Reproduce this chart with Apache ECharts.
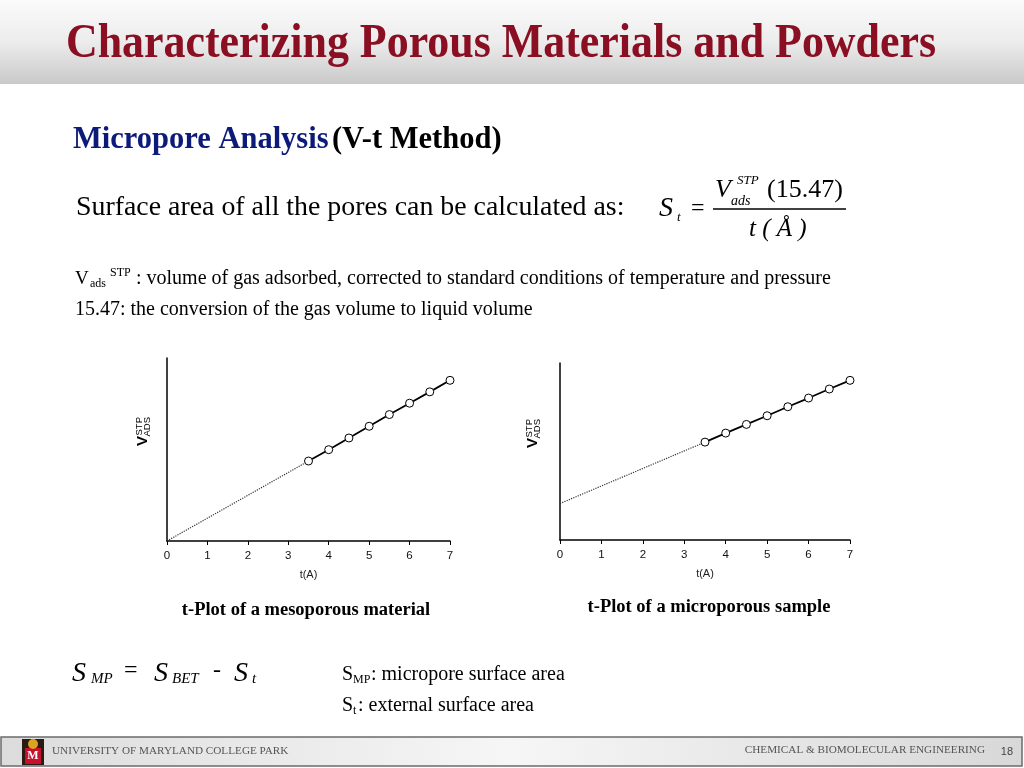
<!DOCTYPE html>
<html>
<head>
<meta charset="utf-8">
<script src="https://cdn.jsdelivr.net/npm/echarts@6/dist/echarts.min.js"></script>
<style>
html,body{margin:0;padding:0;background:#fff;}
#c{width:1024px;height:768px;}
</style>
</head>
<body>
<div id="c"></div>
<script>
// ---- data ----
const tValues = [3.5, 4, 4.5, 5, 5.5, 6, 6.5, 7];
const mesoV = [43.7, 49.9, 56.3, 62.7, 69.1, 75.3, 81.5, 87.8];
const microV = [55.3, 60.4, 65.3, 70.2, 75.3, 80.2, 85.3, 90.2];
const mesoIntercept = 0;
const microIntercept = 20.6;
const xTickLabels = ['0', '1', '2', '3', '4', '5', '6', '7'];
const captions = ['t-Plot of a mesoporous material', 't-Plot of a microporous sample'];

const SERIF = '"Liberation Serif", "DejaVu Serif", serif';
const SANS = '"Liberation Sans", Arial, sans-serif';

const chart = echarts.init(document.getElementById('c'));

function xAxisCfg(gi) {
  return {
    gridIndex: gi, type: 'value', min: 0, max: 7, interval: 1,
    name: 't(A)', nameLocation: 'middle', nameGap: 28,
    nameTextStyle: { fontFamily: SANS, fontSize: 11, color: '#222' },
    axisLine: { lineStyle: { color: '#000', width: 1.5 } },
    axisTick: { show: true, length: 4, lineStyle: { color: '#000', width: 1 } },
    axisLabel: { fontFamily: SANS, fontSize: 11.5, color: '#111', margin: 9,
      formatter: v => xTickLabels[v] },
    splitLine: { show: false }
  };
}
function yAxisCfg(gi) {
  return {
    gridIndex: gi, type: 'value', min: 0, max: 100,
    axisLine: { show: true, lineStyle: { color: '#000', width: 1.5 } },
    axisTick: { show: false }, axisLabel: { show: false }, splitLine: { show: false }
  };
}
function seriesFor(gi, vals, intercept) {
  return [
    { type: 'line', xAxisIndex: gi, yAxisIndex: gi, symbol: 'none', silent: true,
      data: [[0, intercept], [tValues[0], vals[0]]],
      lineStyle: { type: 'dotted', width: 1.2, color: '#333' } },
    { type: 'line', xAxisIndex: gi, yAxisIndex: gi, symbol: 'circle', symbolSize: 8,
      data: tValues.map((t, i) => [t, vals[i]]),
      itemStyle: { color: '#fff', borderColor: '#000', borderWidth: 1 },
      lineStyle: { color: '#000', width: 1.8 } }
  ];
}

function txt(x, y, text, size, opts, extra) {
  opts = opts || {};
  return Object.assign({
    type: 'text', x: x, y: y, z: 10,
    style: Object.assign({
      text: text, fontFamily: SERIF, fontSize: size, fill: '#000',
      textAlign: 'left', textVerticalAlign: 'middle'
    }, opts)
  }, extra || {});
}
function yName(x, y) {
  return {
    type: 'group', x: x, y: y, rotation: Math.PI / 2, z: 10,
    children: [
      { type: 'text', x: 0, y: 0, style: { text: 'V', fontFamily: SANS, fontSize: 15, fontWeight: 'bold', fill: '#000', textAlign: 'left', textVerticalAlign: 'middle' } },
      { type: 'text', x: 10.5, y: -4, style: { text: 'STP', fontFamily: SANS, fontSize: 9.5, fill: '#000', textAlign: 'left', textVerticalAlign: 'middle' } },
      { type: 'text', x: 9.5, y: 4, style: { text: 'ADS', fontFamily: SANS, fontSize: 9.5, fill: '#000', textAlign: 'left', textVerticalAlign: 'middle' } }
    ]
  };
}

const graphics = [
  // header band
  { type: 'rect', z: 0, shape: { x: 0, y: 0, width: 1024, height: 84 },
    style: { fill: { type: 'linear', x: 0, y: 0, x2: 0, y2: 1,
      colorStops: [{ offset: 0, color: '#fbfbfb' }, { offset: 0.5, color: '#ececec' }, { offset: 1, color: '#c9c9c9' }] } } },
  txt(501, 45, 'Characterizing Porous Materials and Powders', 48,
    { textAlign: 'center', fontWeight: 'bold', fill: '#8a0f22' }, { scaleX: 0.915, originX: 0 }),
  // subtitle
  { type: 'text', x: 73, y: 140, z: 10, style: {
      text: '{b|Micropore Analysis} {k|(V-t Method)}', textVerticalAlign: 'middle',
      rich: {
        b: { fontFamily: SERIF, fontSize: 30.5, fontWeight: 'bold', fill: '#0c1a7a', color: '#0c1a7a' },
        k: { fontFamily: SERIF, fontSize: 30.5, fontWeight: 'bold', fill: '#000', color: '#000' }
      } } },
  txt(76, 208, 'Surface area of all the pores can be calculated as:', 28, {}, { scaleX: 0.995 }),
  // formula S_t
  txt(659, 209, 'S', 28, { fontStyle: 'italic' }),
  txt(677, 218, 't', 13, { fontStyle: 'italic' }),
  txt(691, 209, '=', 24),
  { type: 'line', z: 10, shape: { x1: 713, y1: 209, x2: 846, y2: 209 }, style: { stroke: '#000', lineWidth: 1.5 } },
  txt(715, 190, 'V', 26, { fontStyle: 'italic' }),
  txt(737, 181, 'STP', 13, { fontStyle: 'italic' }),
  txt(731, 201, 'ads', 14, { fontStyle: 'italic' }),
  txt(767, 190, '(15.47)', 26),
  txt(749, 229, 't ( Å )', 25, { fontStyle: 'italic' }),
  // definitions
  txt(75, 279, 'V', 19),
  txt(90, 284, 'ads', 12),
  txt(110, 273, 'STP', 12),
  txt(136, 279, ': volume of gas adsorbed, corrected to standard conditions of temperature and pressure', 20),
  txt(75, 310, '15.47: the conversion of the gas volume to liquid volume', 20),
  // axis names (rotated)
  yName(143, 446),
  yName(533, 448),
  // captions
  txt(306, 610, captions[0], 18.5, { textAlign: 'center', fontWeight: 'bold' }),
  txt(709, 607, captions[1], 18.5, { textAlign: 'center', fontWeight: 'bold' }),
  // bottom formula
  txt(72, 674, 'S', 28, { fontStyle: 'italic' }),
  txt(91, 679, 'MP', 15, { fontStyle: 'italic' }),
  txt(124, 671, '=', 24),
  txt(154, 674, 'S', 28, { fontStyle: 'italic' }),
  txt(172, 679, 'BET', 15, { fontStyle: 'italic' }),
  txt(213, 671, '-', 24),
  txt(234, 674, 'S', 28, { fontStyle: 'italic' }),
  txt(252, 679, 't', 15, { fontStyle: 'italic' }),
  txt(342, 675, 'S', 20),
  txt(353, 680, 'MP', 12),
  txt(371, 675, ': micropore surface area', 20),
  txt(342, 706, 'S', 20),
  txt(353, 711, 't', 12),
  txt(358, 706, ': external surface area', 20),
  // footer
  { type: 'rect', z: 0, shape: { x: 1, y: 737, width: 1021, height: 29 },
    style: { stroke: '#6b6b6b', lineWidth: 1.5, fill: { type: 'linear', x: 0, y: 0, x2: 1, y2: 0,
      colorStops: [{ offset: 0, color: '#dcdcdc' }, { offset: 0.5, color: '#f6f6f6' }, { offset: 1, color: '#d8d8d8' }] } } },
  { type: 'rect', z: 5, shape: { x: 22, y: 739, width: 22, height: 26 }, style: { fill: '#2a1a12' } },
  { type: 'rect', z: 6, shape: { x: 25, y: 748, width: 16, height: 16 }, style: { fill: '#c8102e' } },
  { type: 'circle', z: 6, shape: { cx: 33, cy: 744, r: 5 }, style: { fill: '#d9a520' } },
  txt(33, 756, 'M', 12, { textAlign: 'center', fontWeight: 'bold', fill: '#fff' }),
  txt(52, 751, 'UNIVERSITY OF MARYLAND COLLEGE PARK', 11.2, { fill: '#555' }),
  txt(985, 750, 'CHEMICAL & BIOMOLECULAR ENGINEERING', 11.2, { textAlign: 'right', fill: '#555' }),
  txt(1013, 752, '18', 11, { textAlign: 'right', fontFamily: SANS, fill: '#444' })
];

chart.setOption({
  animation: false,
  backgroundColor: '#fff',
  grid: [
    { left: 167, top: 358, width: 283, height: 183 },
    { left: 560, top: 363, width: 290, height: 177 }
  ],
  xAxis: [xAxisCfg(0), xAxisCfg(1)],
  yAxis: [yAxisCfg(0), yAxisCfg(1)],
  series: [].concat(seriesFor(0, mesoV, mesoIntercept), seriesFor(1, microV, microIntercept)),
  graphic: graphics
});
</script>
</body>
</html>
